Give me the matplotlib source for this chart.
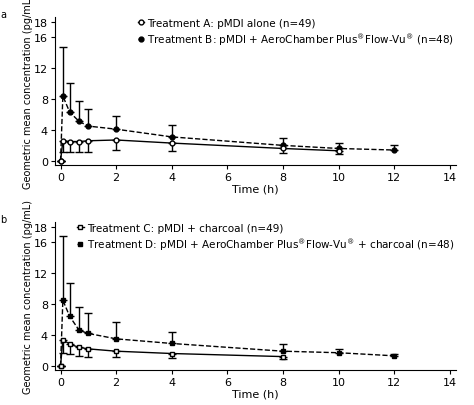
import matplotlib.pyplot as plt

t_a = [0, 0.083, 0.33, 0.67, 1, 2, 4, 8, 10]
mean_a = [0, 2.6, 2.5, 2.5, 2.6, 2.7, 2.3, 1.6, 1.3]
low_a = [0, 1.2, 1.1, 1.1, 1.2, 1.4, 1.3, 1.0, 0.9]

t_b = [0, 0.083, 0.33, 0.67, 1, 2, 4, 8, 10, 12]
mean_b = [0, 8.4, 6.3, 5.1, 4.5, 4.1, 3.1, 2.0, 1.6, 1.4]
up_b = [0, 14.7, 10.1, 7.8, 6.7, 5.8, 4.7, 3.0, 2.3, 2.0]

t_c = [0, 0.083, 0.33, 0.67, 1, 2, 4, 8]
mean_c = [0, 3.4, 2.8, 2.4, 2.2, 1.9, 1.6, 1.2]
low_c = [0, 1.7, 1.5, 1.3, 1.2, 1.1, 1.0, 0.9]

t_d = [0, 0.083, 0.33, 0.67, 1, 2, 4, 8, 10, 12]
mean_d = [0, 8.5, 6.4, 4.6, 4.2, 3.5, 2.9, 1.9, 1.7, 1.3]
up_d = [0, 16.8, 10.8, 7.6, 6.8, 5.7, 4.4, 2.8, 2.2, 1.6]

R = "$^{®}$"
panels = [
    ("a", t_a, mean_a, low_a, t_b, mean_b, up_b, "o",
     "Treatment A: pMDI alone (n=49)",
     f"Treatment B: pMDI + AeroChamber Plus{R}Flow-Vu{R} (n=48)", 0.59),
    ("b", t_c, mean_c, low_c, t_d, mean_d, up_d, "s",
     "Treatment C: pMDI + charcoal (n=49)",
     f"Treatment D: pMDI + AeroChamber Plus{R}Flow-Vu{R} + charcoal (n=48)", 0.085),
]

fig = plt.figure(figsize=(4.74, 4.06), dpi=100)
for lab, t1, m1, l1, t2, m2, u2, mk, lab1, lab2, bot in panels:
    ax = fig.add_axes([0.116, bot, 0.845, 0.365])
    err1 = [[m - l for m, l in zip(m1, l1)], [0] * len(m1)]
    err2 = [[0] * len(m2), [u - m for u, m in zip(u2, m2)]]
    ax.errorbar(t2, m2, yerr=err2, color="black", ls="--", lw=1, marker=mk,
                ms=3.5, mfc="black", capsize=3, elinewidth=1, label=lab2, zorder=3)
    ax.errorbar(t1, m1, yerr=err1, color="black", ls="-", lw=1, marker=mk,
                ms=3.5, mfc="white", capsize=3, elinewidth=1, label=lab1, zorder=4)
    ax.set_xlim(-0.2, 14.2)
    ax.set_ylim(-0.6, 18.6)
    ax.set_xticks(range(0, 15, 2))
    ax.set_yticks([0, 4, 8, 12, 16, 18])
    ax.tick_params(labelsize=8, length=3, pad=2)
    for s in ["top", "right"]:
        ax.spines[s].set_visible(False)
    ax.set_xlabel("Time (h)", fontsize=8, labelpad=1)
    ax.set_ylabel("Geometric mean concentration (pg/mL)", fontsize=7, labelpad=1)
    h, l = ax.get_legend_handles_labels()
    ax.legend([c[0] for c in h[::-1]], l[::-1], loc="upper right",
              bbox_to_anchor=(1.02, 1.06), frameon=False, fontsize=7.5,
              handlelength=0.6, handletextpad=0.3, labelspacing=0.3)
    fig.text(0.0, bot + 0.365, lab, fontsize=7)

fig.savefig("out.png", dpi=100)
